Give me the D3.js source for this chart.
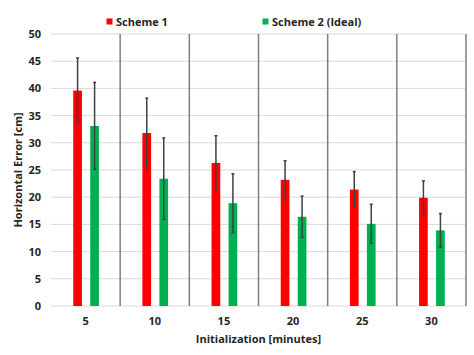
<!DOCTYPE html>
<html><head><meta charset="utf-8">
<script src="https://cdn.jsdelivr.net/npm/d3@7/dist/d3.min.js"></script>
<style>body{margin:0;background:#fff}svg{display:block}text{font-family:"Open Sans",sans-serif;font-weight:bold;fill:#262626}</style>
</head><body><svg id="c" width="474" height="355"></svg>
<script>
const categories = ["5","10","15","20","25","30"];
const seriesNames = ["Scheme 1","Scheme 2 (Ideal)"];
const scheme1 = [39.6,31.8,26.3,23.2,21.4,19.9];
const scheme1Err = [6.0,6.4,5.0,3.5,3.3,3.1];
const scheme2 = [33.1,23.4,18.9,16.4,15.1,13.9];
const scheme2Err = [8.0,7.5,5.4,3.8,3.6,3.1];
const yTicks = [0,5,10,15,20,25,30,35,40,45,50];
const colors = ["#ff0000","#00b050"];

const svg = d3.select("#c");
const m = {l:51,r:466,t:34,b:306};
const x = d3.scaleBand().domain(categories).range([m.l,m.r]);
const y = d3.scaleLinear().domain([0,50]).range([m.b,m.t]);
const xs = d3.scaleBand().domain([0,1]).range([0,x.bandwidth()]).paddingInner(0.95).paddingOuter(6.2);

// gridlines
svg.append("g").selectAll("line").data(yTicks).join("line")
  .attr("x1",m.l).attr("x2",m.r).attr("y1",d=>y(d)).attr("y2",d=>y(d))
  .attr("stroke","#d9d9d9").attr("stroke-width",1);
// separators
svg.append("g").selectAll("line").data(categories).join("line")
  .attr("x1",d=>x(d)+x.bandwidth()).attr("x2",d=>x(d)+x.bandwidth())
  .attr("y1",m.t).attr("y2",m.b).attr("stroke","#7f7f7f").attr("stroke-width",1.5);

const series = [{v:scheme1,e:scheme1Err},{v:scheme2,e:scheme2Err}];
series.forEach((s,i)=>{
  const bw = 8.7;
  const off = i===0 ? -8 : 9;
  const g = svg.append("g");
  g.selectAll("rect").data(categories).join("rect")
    .attr("x",(d,j)=>x(d)+x.bandwidth()/2+off-bw/2).attr("width",bw)
    .attr("y",(d,j)=>y(s.v[j])).attr("height",(d,j)=>y(0)-y(s.v[j]))
    .attr("fill",colors[i]);
  const eg = svg.append("g").attr("stroke","#404040").attr("stroke-width",1.5);
  categories.forEach((d,j)=>{
    const cx = x(d)+x.bandwidth()/2+off;
    eg.append("line").attr("x1",cx).attr("x2",cx).attr("y1",y(s.v[j]+s.e[j])).attr("y2",y(s.v[j]-s.e[j]));
    eg.append("line").attr("x1",cx-1.5).attr("x2",cx+1.5).attr("y1",y(s.v[j]+s.e[j])).attr("y2",y(s.v[j]+s.e[j]));
    eg.append("line").attr("x1",cx-1.5).attr("x2",cx+1.5).attr("y1",y(s.v[j]-s.e[j])).attr("y2",y(s.v[j]-s.e[j]));
  });
});

// y axis labels
const ya = svg.append("g").attr("transform",`translate(${m.l},0)`)
  .call(d3.axisLeft(y).tickValues(yTicks).tickSize(0).tickPadding(10));
ya.select(".domain").remove();
ya.selectAll("text").style("font-size","11px").style("font-family","'Open Sans',sans-serif").style("font-weight","bold").attr("fill","#262626");
// x axis labels
const xa = svg.append("g").attr("transform",`translate(0,${m.b})`)
  .call(d3.axisBottom(x).tickSize(0).tickPadding(11));
xa.select(".domain").remove();
xa.selectAll("text").style("font-size","11px").style("font-family","'Open Sans',sans-serif").style("font-weight","bold").attr("fill","#262626");

svg.append("text").attr("x",(m.l+m.r)/2).attr("y",343).attr("text-anchor","middle")
  .style("font-size","11px").text("Initialization [minutes]");
svg.append("text").attr("transform","translate(22,170) rotate(-90)").attr("text-anchor","middle")
  .style("font-size","11px").text("Horizontal Error [cm]");

// legend
const lx = [106.5,262.5];
seriesNames.forEach((n,i)=>{
  svg.append("rect").attr("x",lx[i]).attr("y",18.5).attr("width",6).attr("height",6).attr("fill",colors[i]);
  svg.append("text").attr("x",lx[i]+9.5).attr("y",25.5).style("font-size","11px").text(n);
});
</script></body></html>
